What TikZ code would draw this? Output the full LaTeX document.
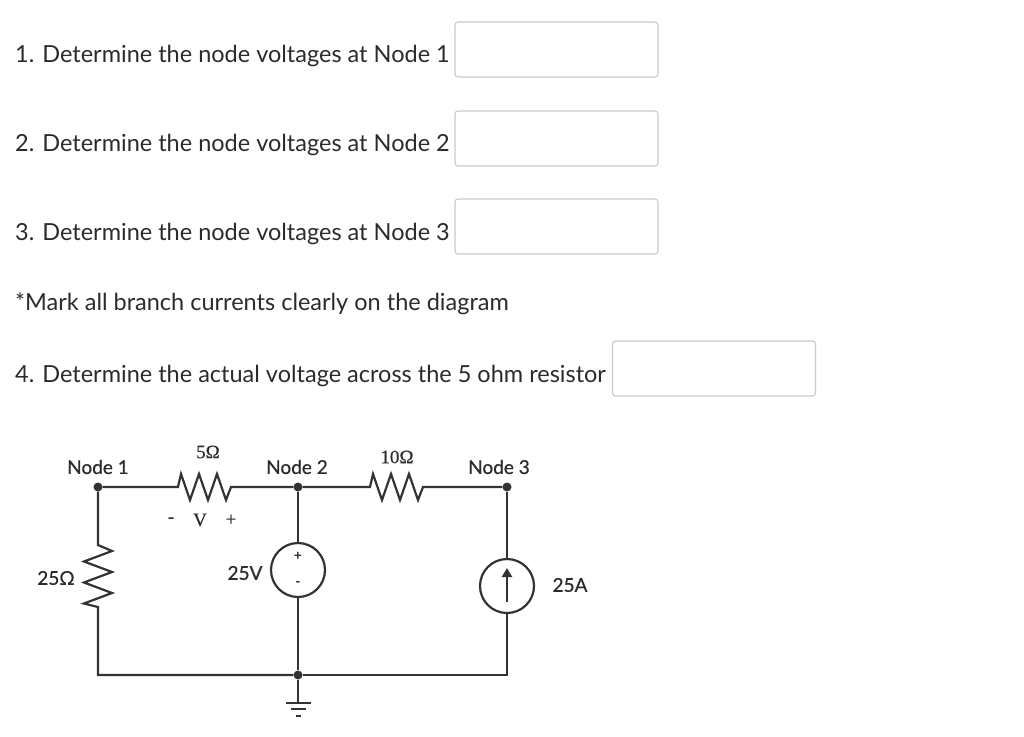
\documentclass[tikz,border=0pt]{standalone}
\usepackage{fontspec}
\setmainfont{Lato}
\newfontfamily\serifont{Liberation Serif}[FakeBold=0.4]
\newfontfamily\lblfont{Lato}[FakeBold=0.6]
\usepackage{tikz}
\usetikzlibrary{arrows.meta}
\definecolor{ink}{HTML}{2B2B2B}
\definecolor{wire}{HTML}{333333}
\definecolor{boxgray}{HTML}{C8C8C8}

\tikzset{
  question/.style={anchor=base west, inner sep=0pt, text=ink, font=\fontsize{23.5}{28}\selectfont},
  answer/.style={draw=boxgray, line width=1.1pt, rounded corners=3pt, minimum width=203pt, minimum height=55pt, inner sep=0pt},
  dot/.style={circle, fill=wire, minimum size=9pt, inner sep=0pt},
  src/.style={circle, draw=wire, line width=2.2pt, minimum size=54pt, inner sep=0pt},
  lbl/.style={text=ink, inner sep=0pt, font=\lblfont\fontsize{19}{22}\selectfont},
  ohm/.style={text=ink, inner sep=0pt, font=\serifont\fontsize{19}{22}\selectfont},
  wire/.style={draw=wire, line width=2.2pt, line join=miter}
}

\begin{document}
\begin{tikzpicture}[x=1pt, y=-1pt]
    \useasboundingbox (0,0) rectangle (1024,736);
    \node(q1)[question] at (15,62) {1. Determine the node voltages at Node 1};
    \node(q2)[question] at (15,151) {2. Determine the node voltages at Node 2};
    \node(q3)[question] at (15,240) {3. Determine the node voltages at Node 3};
    \node(q0)[question] at (15,310) {*Mark all branch currents clearly on the diagram};
    \node(q4)[question] at (15,382) {4. Determine the actual voltage across the 5 ohm resistor};
    \node(a1)[answer] at (556.5,49.5) {};
    \node(a2)[answer] at (556.5,138.5) {};
    \node(a3)[answer] at (556.5,226.5) {};
    \node(a4)[answer] at (714,368.5) {};

    \node(n1)[dot] at (98,487) {};
    \node(n2)[dot] at (298,487) {};
    \node(n3)[dot] at (507,487) {};
    \node(g)[dot] at (298,675) {};
    \coordinate(bl) at (98,675);
    \coordinate(br) at (507,675);
    \coordinate(r1a) at (178,487);
    \coordinate(r1b) at (231,487);
    \coordinate(r2a) at (370,487);
    \coordinate(r2b) at (423,487);
    \coordinate(r3a) at (98,545);
    \coordinate(r3b) at (98,607);
    \coordinate(gnd) at (298,703);
    \node(vs)[src] at (298,570) {};
    \node(is)[src] at (507,586) {};

    \node(l1)[lbl] at (98,467) {Node 1};
    \node(l2)[lbl] at (297,467) {Node 2};
    \node(l3)[lbl] at (499,467) {Node 3};
    \node(w1)[ohm] at (208,452) {5Ω};
    \node(w2)[ohm] at (397,457) {10Ω};
    \node(w3)[lbl] at (56,578) {25Ω};
    \node(vm)[ohm] at (171,520) {-};
    \node(vv)[ohm] at (200,520) {V};
    \node(vp)[ohm] at (231,520) {+};
    \node(e1)[lbl] at (245,573) {25V};
    \node(e2)[lbl] at (570,585) {25A};
    \node(pp)[text=ink, font=\bfseries\fontsize{14}{14}\selectfont] at (298,556) {+};
    \node(pm)[text=ink, font=\bfseries\fontsize{14}{14}\selectfont] at (298,584) {-};

    \draw[wire] (n1) -- (r1a) -- ++(3,-13) -- ++(9,26) -- ++(9,-26) -- ++(9,26) -- ++(9,-26) -- ++(9,26) -- (r1b) -- (n2);
    \draw[wire] (n2) -- (r2a) -- ++(3,-13) -- ++(9,26) -- ++(9,-26) -- ++(9,26) -- ++(9,-26) -- ++(9,26) -- (r2b) -- (n3);
    \draw[wire] (n1) -- (r3a) -- ++(14,6) -- ++(-28,10.5) -- ++(28,10.5) -- ++(-28,10.5) -- ++(28,10.5) -- ++(-28,10.5) -- (r3b) -- (bl) -- (g);
    \draw[wire] (n2) -- (vs);
    \draw[wire] (vs) -- (g);
    \draw[wire] (g) -- (br) -- (is);
    \draw[wire, line width=1.6pt] (is) -- (n3);
    \draw[wire, line width=2.6pt, -{Triangle[length=9pt, width=10pt]}] ([yshift=-16pt]is.center) -- ([yshift=18pt]is.center);
    \draw[wire] (g) -- (gnd);
    \draw[wire] ([xshift=-12.5pt]gnd) -- ([xshift=12.5pt]gnd);
    \draw[wire] ([shift={(-7.5,6)}]gnd) -- ([shift={(7.5,6)}]gnd);
    \draw[wire] ([shift={(-2.5,13)}]gnd) -- ([shift={(2.5,13)}]gnd);
\end{tikzpicture}
\end{document}
